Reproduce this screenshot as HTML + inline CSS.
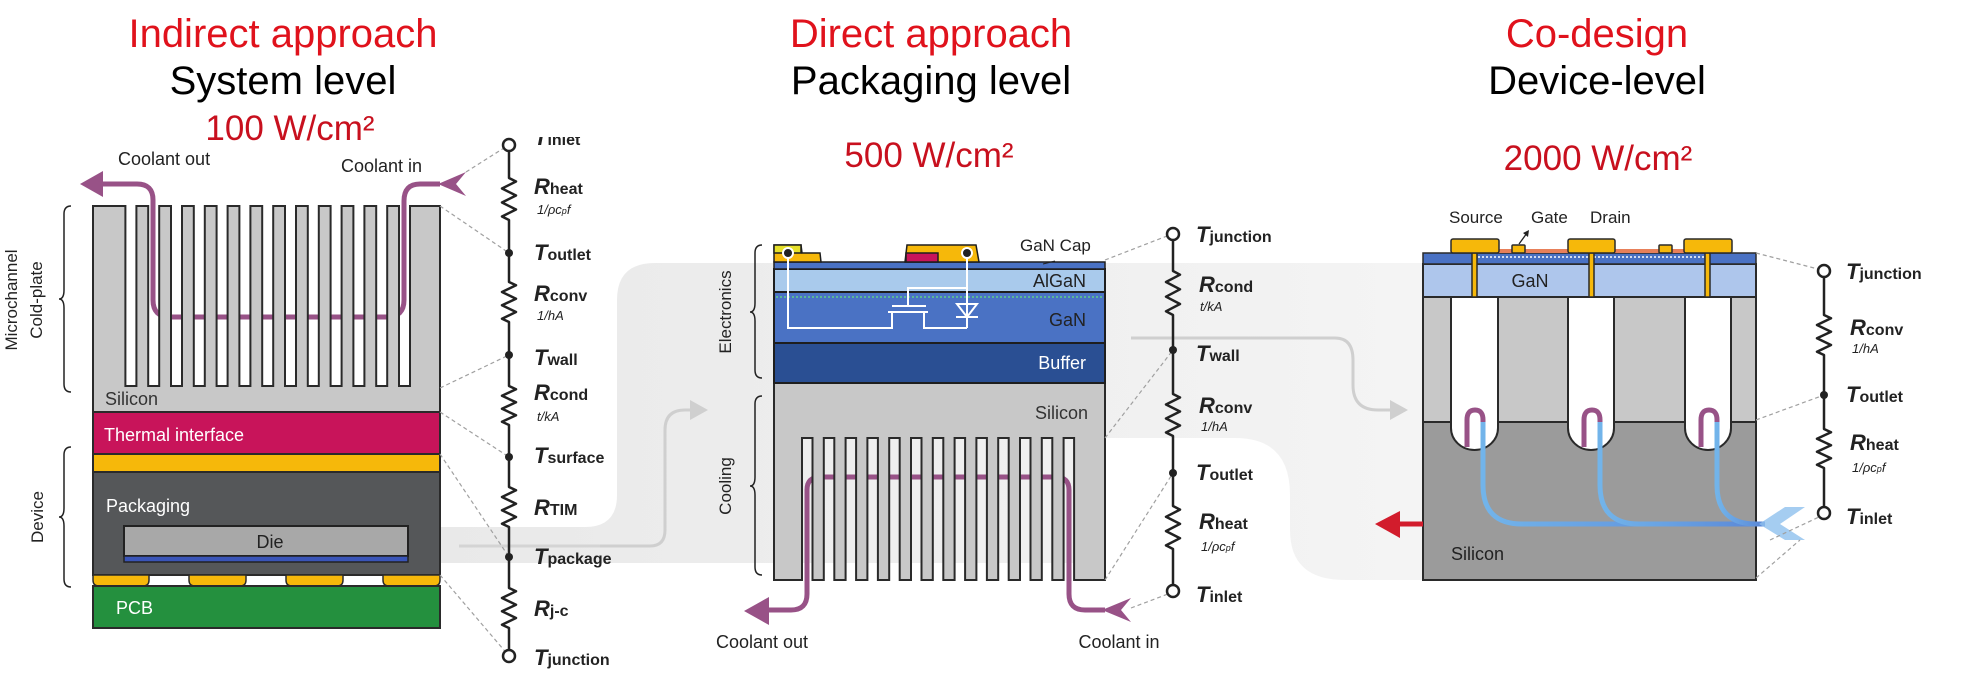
<!DOCTYPE html>
<html><head><meta charset="utf-8"><style>
html,body{margin:0;padding:0;background:#fff;}
svg{display:block;}
text{font-family:"Liberation Sans",Arial,sans-serif;}
</style></head><body>
<svg width="1964" height="691" viewBox="0 0 1964 691" xmlns="http://www.w3.org/2000/svg">
<defs>
<linearGradient id="gb" x1="0" x2="1" y1="0" y2="0">
<stop offset="0" stop-color="#e9e9e9"/><stop offset="1" stop-color="#f4f4f4"/>
</linearGradient>
<linearGradient id="bl" x1="0" x2="1" y1="0" y2="0">
<stop offset="0" stop-color="#72b4ea"/><stop offset="1" stop-color="#5a86d6"/>
</linearGradient>
</defs>

<path d="M440 527 H585 Q617 527 617 495 V300 Q617 263 655 263 H1423 V580 H1345 Q1290 580 1290 530 V495 Q1290 438 1235 438 H1105 V563 H440 Z" fill="url(#gb)"/>
<line x1="459" y1="546" x2="600" y2="546" stroke="#d4d4d4" stroke-width="3"/>
<path d="M600 546 H650 Q665 546 665 530 V430 Q665 410 685 410 H692" fill="none" stroke="#cfcfcf" stroke-width="3"/>
<polygon points="708,410 690,400 690,420" fill="#cfcfcf"/>
<path d="M1131 338 H1335 Q1353 338 1353 360 V385 Q1353 410 1378 410 H1392" fill="none" stroke="#cfcfcf" stroke-width="3"/>
<polygon points="1408,410 1390,400 1390,420" fill="#cfcfcf"/>

<!-- ===== Panel 1 ===== -->
<text x="283" y="47" font-size="40" fill="#e0121c" text-anchor="middle">Indirect approach</text>
<text x="283" y="94" font-size="40" fill="#000" text-anchor="middle">System level</text>
<text x="290" y="140" font-size="35" fill="#c8101e" text-anchor="middle">100 W/cm²</text>
<text x="118" y="165" font-size="18" fill="#222">Coolant out</text>
<text x="341" y="172" font-size="18" fill="#222">Coolant in</text>

<path d="M440 184 H420 Q404 184 404 201 V300 Q404 317 387 317 H170 Q153 317 153 300 V200 Q153 184 137 184 H100" fill="none" stroke="#985287" stroke-width="5"/>
<polygon points="80,184 103,171 103,197" fill="#985287"/>
<polygon points="438,184 466,172 456,184 466,196" fill="#985287"/>

<path d="M93 412 V206 H125.4 V386 H136.4 V206 H148.2 V386 H159.2 V206 H171 V386 H182 V206 H193.8 V386 H204.8 V206 H216.6 V386 H227.6 V206 H239.4 V386 H250.4 V206 H262.2 V386 H273.2 V206 H285 V386 H296 V206 H307.8 V386 H318.8 V206 H330.6 V386 H341.6 V206 H353.4 V386 H364.4 V206 H376.2 V386 H387.2 V206 H399 V386 H410 V206 H440 V412 Z" fill="#c8c8c8" stroke="#2a2a2a" stroke-width="2"/>
<text x="105" y="405" font-size="18" fill="#333">Silicon</text>
<rect x="93" y="412" width="347" height="42" fill="#c8145a" stroke="#2a2a2a" stroke-width="2"/>
<text x="104" y="441" font-size="18" fill="#fff">Thermal interface</text>
<rect x="93" y="454" width="347" height="18" fill="#f6b80a" stroke="#2a2a2a" stroke-width="2"/>
<rect x="93" y="472" width="347" height="103" fill="#555759" stroke="#2a2a2a" stroke-width="2"/>
<text x="106" y="512" font-size="18" fill="#fff">Packaging</text>
<rect x="124" y="526" width="284" height="30" fill="#a8a8a8" stroke="#222" stroke-width="2"/>
<rect x="124" y="556" width="284" height="6" fill="#3a55b8" stroke="#222" stroke-width="1.5"/>
<text x="270" y="548" font-size="18" fill="#222" text-anchor="middle">Die</text>
<path d="M93 575 H149 V580 Q149 586 143 586 H99 Q93 586 93 580 Z M189 575 H246 V580 Q246 586 240 586 H195 Q189 586 189 580 Z M286 575 H343 V580 Q343 586 337 586 H292 Q286 586 286 580 Z M383 575 H440 V580 Q440 586 434 586 H389 Q383 586 383 580 Z" fill="#f6b80a" stroke="#2a2a2a" stroke-width="1.5"/>
<rect x="93" y="586" width="347" height="42" fill="#24903e" stroke="#2a2a2a" stroke-width="2"/>
<text x="116" y="614" font-size="18" fill="#fff">PCB</text>

<path d="M71 206 Q64 206 64 214 V290 Q64 299 59 299 Q64 299 64 308 V384 Q64 392 71 392" fill="none" stroke="#222" stroke-width="1.5"/>
<path d="M71 447 Q64 447 64 455 V508 Q64 517 59 517 Q64 517 64 526 V579 Q64 587 71 587" fill="none" stroke="#222" stroke-width="1.5"/>
<text transform="translate(17,300) rotate(-90)" font-size="17" fill="#222" text-anchor="middle">Microchannel</text>
<text transform="translate(42,300) rotate(-90)" font-size="17" fill="#222" text-anchor="middle">Cold-plate</text>
<text transform="translate(43,517) rotate(-90)" font-size="17" fill="#222" text-anchor="middle">Device</text>

<g stroke="#a0a0a0" stroke-width="1.2" stroke-dasharray="4 3" fill="none">
<line x1="466" y1="172" x2="504" y2="148"/>
<line x1="440" y1="206" x2="509" y2="253"/>
<line x1="440" y1="388" x2="509" y2="355"/>
<line x1="440" y1="412" x2="509" y2="457"/>
<line x1="440" y1="454" x2="509" y2="557"/>
<line x1="440" y1="575" x2="509" y2="656"/>
</g>
<polyline points="509,151 509,178 516,181.5 502,188.5 516,195.5 502,202.5 516,209.5 502,216.5 509,220 509,282 516,285.3 502,292 516,298.7 502,305.3 516,312 502,318.7 509,322 509,386 516,389.3 502,395.8 516,402.3 502,408.8 516,415.3 502,421.8 509,425 509,487 516,490.3 502,497 516,503.7 502,510.3 516,517 502,523.7 509,527 509,588 516,591.3 502,598 516,604.7 502,611.3 516,618 502,624.7 509,628 509,650" fill="none" stroke="#222" stroke-width="2.5" stroke-linejoin="round"/>
<circle cx="509" cy="145" r="6" fill="#fff" stroke="#222" stroke-width="2.5"/>
<circle cx="509" cy="656" r="6" fill="#fff" stroke="#222" stroke-width="2.5"/>
<circle cx="509" cy="253" r="4" fill="#222"/><circle cx="509" cy="355" r="4" fill="#222"/><circle cx="509" cy="457" r="4" fill="#222"/><circle cx="509" cy="557" r="4" fill="#222"/>
<g font-weight="bold" fill="#222">
<text x="534" y="145" font-size="16"><tspan font-style="italic" font-size="22">T</tspan>inlet</text>
<text x="534" y="194" font-size="16"><tspan font-style="italic" font-size="22">R</tspan>heat</text>
<text x="534" y="260" font-size="16"><tspan font-style="italic" font-size="22">T</tspan>outlet</text>
<text x="534" y="301" font-size="16"><tspan font-style="italic" font-size="22">R</tspan>conv</text>
<text x="534" y="365" font-size="16"><tspan font-style="italic" font-size="22">T</tspan>wall</text>
<text x="534" y="400" font-size="16"><tspan font-style="italic" font-size="22">R</tspan>cond</text>
<text x="534" y="463" font-size="16"><tspan font-style="italic" font-size="22">T</tspan>surface</text>
<text x="534" y="515" font-size="16"><tspan font-style="italic" font-size="22">R</tspan>TIM</text>
<text x="534" y="564" font-size="16"><tspan font-style="italic" font-size="22">T</tspan>package</text>
<text x="534" y="616" font-size="16"><tspan font-style="italic" font-size="22">R</tspan>j-c</text>
<text x="534" y="665" font-size="16"><tspan font-style="italic" font-size="22">T</tspan>junction</text>
</g>
<g font-style="italic" font-size="13" fill="#222">
<text x="537" y="214">1/ρc<tspan font-size="9">p</tspan>f</text>
<text x="537" y="320">1/hA</text>
<text x="537" y="421">t/kA</text>
</g>
<rect x="525" y="120" width="80" height="17" fill="#fff"/>

<!-- ===== Panel 2 ===== -->
<text x="931" y="47" font-size="40" fill="#e0121c" text-anchor="middle">Direct approach</text>
<text x="931" y="94" font-size="40" fill="#000" text-anchor="middle">Packaging level</text>
<text x="929" y="167" font-size="35" fill="#c8101e" text-anchor="middle">500 W/cm²</text>

<path d="M1105 610 H1085 Q1069 610 1069 594 V490 Q1069 477 1056 477 H820 Q807 477 807 490 V594 Q807 610 791 610 H767" fill="none" stroke="#985287" stroke-width="5"/>
<polygon points="744,611 769,597 769,625" fill="#985287"/>
<polygon points="1102,610 1131,598 1121,610 1131,622" fill="#985287"/>
<path d="M774 383 H1105 V580 H1074.1 V438 H1063.6 V580 H1052.3 V438 H1041.8 V580 H1030.5 V438 H1020 V580 H1008.7 V438 H998.2 V580 H986.9 V438 H976.4 V580 H965.1 V438 H954.6 V580 H943.3 V438 H932.8 V580 H921.5 V438 H911 V580 H899.7 V438 H889.2 V580 H877.9 V438 H867.4 V580 H856.1 V438 H845.6 V580 H834.3 V438 H823.8 V580 H812.5 V438 H802 V580 H774 Z" fill="#c8c8c8" stroke="#2a2a2a" stroke-width="2"/>
<text x="1088" y="419" font-size="18" fill="#333" text-anchor="end">Silicon</text>
<rect x="774" y="343" width="331" height="40" fill="#2a4f93" stroke="#1e1e1e" stroke-width="2"/>
<text x="1086" y="369" font-size="18" fill="#fff" text-anchor="end">Buffer</text>
<rect x="774" y="292" width="331" height="51" fill="#4a72c4" stroke="#1e1e1e" stroke-width="2"/>
<rect x="774" y="269" width="331" height="23" fill="#a9caec" stroke="#1e1e1e" stroke-width="2"/>
<rect x="774" y="262" width="331" height="7" fill="#4a72c4" stroke="#1e1e1e" stroke-width="1.5"/>
<line x1="776" y1="297" x2="1103" y2="297" stroke="#5fd08a" stroke-width="1.5" stroke-dasharray="2 2"/>
<text x="1086" y="287" font-size="18" fill="#222" text-anchor="end">AlGaN</text>
<text x="1086" y="326" font-size="18" fill="#222" text-anchor="end">GaN</text>
<path d="M774 262 V245 H801 L802 253 H820 L821 262 Z" fill="#f6b80a" stroke="#1e1e1e" stroke-width="1.5"/>
<rect x="774" y="245" width="27" height="8" fill="#e6e02a" stroke="#1e1e1e" stroke-width="1.5"/>
<path d="M905 262 L907 245 H976 L979 262 Z" fill="#f6b80a" stroke="#1e1e1e" stroke-width="1.5"/>
<rect x="906" y="253" width="32" height="9" fill="#c8145a" stroke="#1e1e1e" stroke-width="1.5"/>
<g fill="none" stroke="#fff" stroke-width="2">
<polyline points="788,253 788,328 892,328 892,312"/>
<line x1="888" y1="312" x2="928" y2="312"/>
<line x1="892" y1="306" x2="926" y2="306"/>
<polyline points="908,306 908,288 967,288"/>
<polyline points="924,312 924,328 967,328"/>
<line x1="967" y1="253" x2="967" y2="328"/>
<polygon points="957,304 977,304 967,317"/>
<line x1="956" y1="317" x2="978" y2="317"/>
</g>
<circle cx="788" cy="253" r="5" fill="#222" stroke="#fff" stroke-width="2"/>
<circle cx="967" cy="253" r="5" fill="#222" stroke="#fff" stroke-width="2"/>
<text x="1020" y="251" font-size="17" fill="#222">GaN Cap</text>
<line x1="1043" y1="264" x2="1055" y2="261" stroke="#222" stroke-width="1"/>
<path d="M762 245 Q755 245 755 253 V303 Q755 312 750 312 Q755 312 755 321 V370 Q755 378 762 378" fill="none" stroke="#222" stroke-width="1.5"/>
<path d="M762 396 Q755 396 755 404 V477 Q755 486 750 486 Q755 486 755 495 V567 Q755 575 762 575" fill="none" stroke="#222" stroke-width="1.5"/>
<text transform="translate(731,312) rotate(-90)" font-size="17" fill="#222" text-anchor="middle">Electronics</text>
<text transform="translate(731,486) rotate(-90)" font-size="17" fill="#222" text-anchor="middle">Cooling</text>
<text x="762" y="648" font-size="18" fill="#222" text-anchor="middle">Coolant out</text>
<text x="1119" y="648" font-size="18" fill="#222" text-anchor="middle">Coolant in</text>
<g stroke="#a0a0a0" stroke-width="1.2" stroke-dasharray="4 3" fill="none">
<line x1="1105" y1="260" x2="1167" y2="236"/>
<line x1="1105" y1="438" x2="1173" y2="350"/>
<line x1="1105" y1="580" x2="1173" y2="473"/>
<line x1="1131" y1="608" x2="1168" y2="594"/>
</g>
<polyline points="1173,240 1173,271 1180,274.7 1166,282 1180,289.3 1166,296.7 1180,304 1166,311.3 1173,315 1173,394 1180,397.5 1166,404.5 1180,411.5 1166,418.5 1180,425.5 1166,432.5 1173,436 1173,506 1180,509.6 1166,516.8 1180,523.9 1166,531.1 1180,538.2 1166,545.4 1173,549 1173,585" fill="none" stroke="#222" stroke-width="2.5" stroke-linejoin="round"/>
<circle cx="1173" cy="234" r="6" fill="#fff" stroke="#222" stroke-width="2.5"/>
<circle cx="1173" cy="591" r="6" fill="#fff" stroke="#222" stroke-width="2.5"/>
<circle cx="1173" cy="350" r="4" fill="#222"/><circle cx="1173" cy="473" r="4" fill="#222"/>
<g font-weight="bold" fill="#222">
<text x="1196" y="242" font-size="16"><tspan font-style="italic" font-size="22">T</tspan>junction</text>
<text x="1199" y="292" font-size="16"><tspan font-style="italic" font-size="22">R</tspan>cond</text>
<text x="1196" y="361" font-size="16"><tspan font-style="italic" font-size="22">T</tspan>wall</text>
<text x="1199" y="413" font-size="16"><tspan font-style="italic" font-size="22">R</tspan>conv</text>
<text x="1196" y="480" font-size="16"><tspan font-style="italic" font-size="22">T</tspan>outlet</text>
<text x="1199" y="529" font-size="16"><tspan font-style="italic" font-size="22">R</tspan>heat</text>
<text x="1196" y="602" font-size="16"><tspan font-style="italic" font-size="22">T</tspan>inlet</text>
</g>
<g font-style="italic" font-size="13" fill="#222">
<text x="1200" y="311">t/kA</text>
<text x="1201" y="431">1/hA</text>
<text x="1201" y="551">1/ρc<tspan font-size="9">p</tspan>f</text>
</g>

<!-- ===== Panel 3 ===== -->
<text x="1597" y="47" font-size="40" fill="#e0121c" text-anchor="middle">Co-design</text>
<text x="1597" y="94" font-size="40" fill="#000" text-anchor="middle">Device-level</text>
<text x="1598" y="170" font-size="35" fill="#c8101e" text-anchor="middle">2000 W/cm²</text>
<text x="1449" y="223" font-size="17" fill="#222">Source</text>
<text x="1531" y="223" font-size="17" fill="#222">Gate</text>
<text x="1590" y="223" font-size="17" fill="#222">Drain</text>
<line x1="1519" y1="244" x2="1527" y2="233" stroke="#222" stroke-width="1.3"/>
<polygon points="1529,230 1523,233 1528,237" fill="#222"/>

<rect x="1423" y="422" width="333" height="158" fill="#9b9b9b" stroke="#2a2a2a" stroke-width="2"/>
<rect x="1423" y="297" width="333" height="125" fill="#c8c8c8" stroke="#2a2a2a" stroke-width="2"/>
<text x="1451" y="560" font-size="18" fill="#222">Silicon</text>
<g fill="#fff" stroke="#2a2a2a" stroke-width="2">
<path d="M1451 297 V428 A23.5 22 0 0 0 1498 428 V297"/>
<path d="M1568 297 V428 A23 22 0 0 0 1614 428 V297"/>
<path d="M1685 297 V428 A23 22 0 0 0 1731 428 V297"/>
</g>
<g fill="none" stroke="#985287" stroke-width="5">
<path d="M1467 447 V420 Q1467 410 1475 410 Q1483 410 1483 420 V424"/>
<path d="M1584 447 V420 Q1584 410 1592 410 Q1600 410 1600 420 V424"/>
<path d="M1701 447 V420 Q1701 410 1709 410 Q1717 410 1717 420 V424"/>
</g>
<g fill="none" stroke="url(#bl)" stroke-width="5">
<path d="M1483 422 V485 Q1483 524 1522 524 H1765"/>
<path d="M1600 422 V485 Q1600 524 1639 524 H1765"/>
<path d="M1717 422 V485 Q1717 524 1756 524 H1765"/>
</g>
<polygon points="1759,524 1785,507 1805,507 1780,524 1805,540 1785,540" fill="#8ec0ee" opacity="0.8"/>
<line x1="1398" y1="524" x2="1423" y2="524" stroke="#d21c2c" stroke-width="5"/>
<polygon points="1375,524 1400,511 1400,538" fill="#d21c2c"/>
<rect x="1423" y="264" width="333" height="33" fill="#aec6ec" stroke="#2a2a2a" stroke-width="2"/>
<rect x="1423" y="253" width="333" height="11" fill="#4a72c4" stroke="#2a2a2a" stroke-width="1.5"/>
<line x1="1478" y1="257" x2="1706" y2="257" stroke="#fff" stroke-width="1.5" stroke-dasharray="2 2"/>
<text x="1530" y="287" font-size="18" fill="#222" text-anchor="middle">GaN</text>
<rect x="1499" y="249" width="185" height="4" fill="#e8805a"/>
<g fill="#f6b80a" stroke="#2a2a2a" stroke-width="1.5">
<rect x="1472" y="253" width="5" height="44"/>
<rect x="1589" y="253" width="5" height="44"/>
<rect x="1705" y="253" width="5" height="44"/>
<rect x="1451" y="239" width="48" height="14" rx="2"/>
<rect x="1512" y="245" width="13" height="8" rx="1"/>
<rect x="1568" y="239" width="47" height="14" rx="2"/>
<rect x="1659" y="245" width="13" height="8" rx="1"/>
<rect x="1684" y="239" width="48" height="14" rx="2"/>
</g>
<g stroke="#a0a0a0" stroke-width="1.2" stroke-dasharray="4 3" fill="none">
<line x1="1756" y1="253" x2="1818" y2="269"/>
<line x1="1756" y1="420" x2="1824" y2="395"/>
<line x1="1770" y1="540" x2="1819" y2="517"/>
<line x1="1756" y1="578" x2="1800" y2="540"/>
</g>
<polyline points="1824,277 1824,315 1831,318.3 1817,325 1831,331.7 1817,338.3 1831,345 1817,351.7 1824,355 1824,429 1831,432.3 1817,438.8 1831,445.3 1817,451.8 1831,458.3 1817,464.8 1824,468 1824,507" fill="none" stroke="#222" stroke-width="2.5" stroke-linejoin="round"/>
<circle cx="1824" cy="271" r="6" fill="#fff" stroke="#222" stroke-width="2.5"/>
<circle cx="1824" cy="513" r="6" fill="#fff" stroke="#222" stroke-width="2.5"/>
<circle cx="1824" cy="395" r="4" fill="#222"/>
<g font-weight="bold" fill="#222">
<text x="1846" y="279" font-size="16"><tspan font-style="italic" font-size="22">T</tspan>junction</text>
<text x="1850" y="335" font-size="16"><tspan font-style="italic" font-size="22">R</tspan>conv</text>
<text x="1846" y="402" font-size="16"><tspan font-style="italic" font-size="22">T</tspan>outlet</text>
<text x="1850" y="450" font-size="16"><tspan font-style="italic" font-size="22">R</tspan>heat</text>
<text x="1846" y="524" font-size="16"><tspan font-style="italic" font-size="22">T</tspan>inlet</text>
</g>
<g font-style="italic" font-size="13" fill="#222">
<text x="1852" y="353">1/hA</text>
<text x="1852" y="472">1/ρc<tspan font-size="9">p</tspan>f</text>
</g>
</svg>
</body></html>
